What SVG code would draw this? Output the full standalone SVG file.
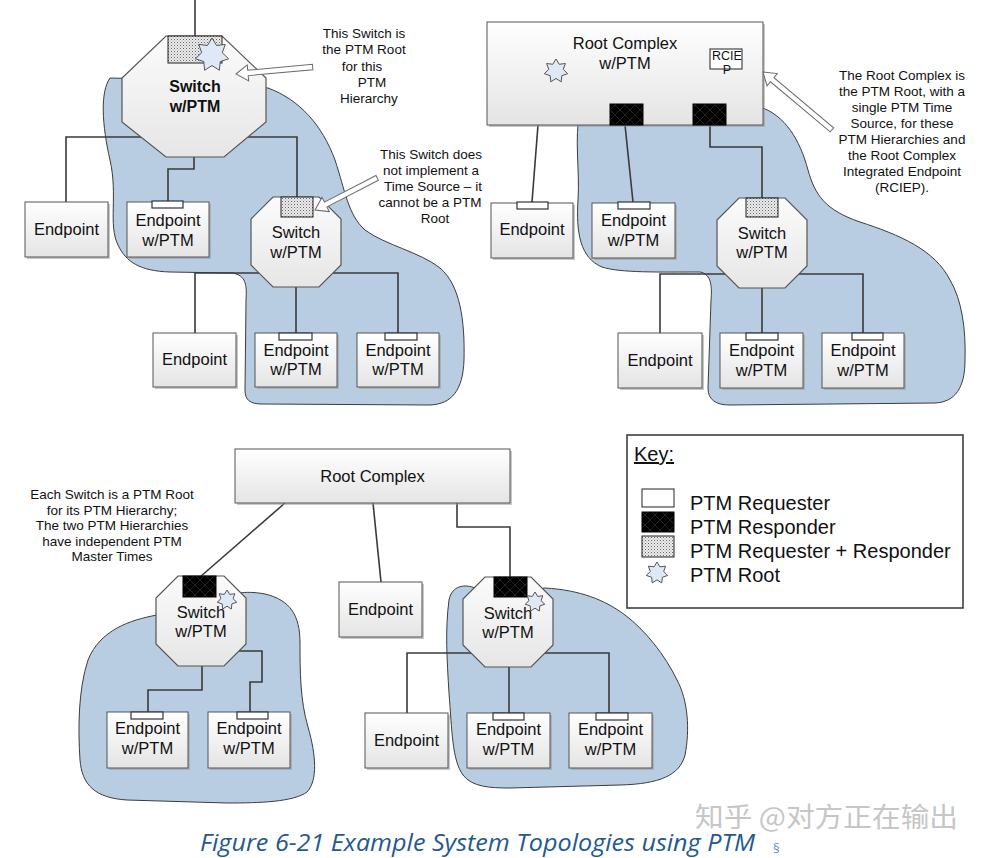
<svg xmlns="http://www.w3.org/2000/svg" xmlns:xlink="http://www.w3.org/1999/xlink" width="984" height="858" viewBox="0 0 984 858">
<style>
.blob{fill:#b8cde2;stroke:#3c3c3c;stroke-width:1}
.ln{fill:none;stroke:#3a3a3a;stroke-width:1.6}
.box{fill:url(#gbox);stroke:#555;stroke-width:1}
.sh{fill:#9a9a9a;opacity:.55}
.oct{fill:url(#goct);stroke:#555;stroke-width:1.2}
.port{fill:#fff;stroke:#333;stroke-width:1.2}
.dots{fill:url(#pdots);stroke:#222;stroke-width:1}
.resp{fill:url(#phatch);stroke:#000;stroke-width:1}
.t{font-family:"Liberation Sans",Arial,sans-serif;font-size:16.5px;fill:#111;text-anchor:middle}
.tb{font-family:"Liberation Sans",Arial,sans-serif;font-size:16px;font-weight:bold;fill:#111;text-anchor:middle}
.ann{font-family:"Liberation Sans",Arial,sans-serif;font-size:13.5px;fill:#111;text-anchor:middle}
.key{font-family:"Liberation Sans",Arial,sans-serif;font-size:20px;fill:#111}
.arw{fill:#fff;stroke:#6a6a6a;stroke-width:1}
.star{fill:#dfe9f6;stroke:#555;stroke-width:1;vector-effect:non-scaling-stroke}
</style>
<defs>
<linearGradient id="gbox" x1="0" y1="0" x2="0" y2="1"><stop offset="0" stop-color="#ffffff"/><stop offset="1" stop-color="#e4e4e4"/></linearGradient>
<linearGradient id="goct" x1="0" y1="0" x2="0" y2="1"><stop offset="0" stop-color="#fbfbfb"/><stop offset="1" stop-color="#e6e6e6"/></linearGradient>
<pattern id="pdots" width="3" height="3" patternUnits="userSpaceOnUse"><rect width="3" height="3" fill="#ececec"/><rect width="1" height="1" fill="#666"/><rect x="1.5" y="1.5" width="1" height="1" fill="#999"/></pattern>
<pattern id="phatch" width="10" height="10" patternUnits="userSpaceOnUse"><rect width="10" height="10" fill="#000"/><path d="M0,0 L10,10 M10,0 L0,10" stroke="#2e2e2e" stroke-width="0.8"/></pattern>
<path id="star" class="star" d="M0,-10 L2.69,-5.59 L7.82,-6.24 L6.04,-1.38 L9.75,2.23 L4.85,3.87 L4.34,9.01 L0,6.2 L-4.34,9.01 L-4.85,3.87 L-9.75,2.23 L-6.04,-1.38 L-7.82,-6.24 L-2.69,-5.59 Z"/>
</defs>

<rect width="984" height="858" fill="#fff"/>

<!-- PTM hierarchy regions -->
<g id="regions">
<path class="blob" d="M110,78 C100,92 102,125 110,160 C118,195 108,225 118,245 C126,262 140,271 170,272 L232,273 C246,275 247,285 246,300 L245,390 C245,400 250,404 262,404 L430,405 C452,404 463,390 464,360 C465,320 460,285 440,268 C420,252 385,245 365,230 C348,215 345,190 335,160 C322,125 300,100 268,88 L190,80 Z"/>
<path class="blob" d="M580,110 C574,140 580,170 578,200 C576,232 580,258 602,267 C620,273 660,272 700,272 C712,274 712,288 711,300 L708,388 C708,400 716,405 730,405 L935,403 C955,402 965,388 965,360 C966,330 962,300 950,280 C935,250 900,235 860,222 C825,210 815,195 808,170 C800,140 785,115 760,107 L620,108 Z"/>
<path class="blob" d="M170,612 L157,615 C130,620 100,630 88,660 C78,690 78,730 80,760 C82,785 95,798 127,800 L227,803 C260,803 293,802 307,792 C318,780 316,755 308,727 C300,700 300,670 300,643 C300,615 290,600 265,594 C255,592 245,592 240,593 Z"/>
<path class="blob" d="M475,588 C465,584 452,585 449,600 C445,630 447,660 449,693 C452,730 452,760 463,775 C472,787 490,788 510,788 L620,785 C660,784 680,775 685,755 C690,730 688,700 677,680 C665,655 645,630 625,615 C605,600 580,590 545,588 L530,590 Z"/>
</g>

<!-- connectors -->
<g id="connectors">
<path class="ln" d="M195,0 V36"/>
<path class="ln" d="M66,202 V137 H297 V197"/>
<path class="ln" d="M194,157 V169 H168 V202"/>
<path class="ln" d="M195,333 V273 H398 V333"/>
<path class="ln" d="M296,287 V333"/>
<path class="ln" d="M538,125 L532,202"/>
<path class="ln" d="M625,125 L633,202"/>
<path class="ln" d="M710,125 V147 H762 V198"/>
<path class="ln" d="M660,333 V274 H863 V333"/>
<path class="ln" d="M762,288 V333"/>
<path class="ln" d="M285,503 L200,577"/>
<path class="ln" d="M457,503 V527 H510 V577"/>
<path class="ln" d="M373,503 L381,582"/>
<path class="ln" d="M202,666 V690 H148 V712"/>
<path class="ln" d="M235,651 H262 V682 H250 V712"/>
<path class="ln" d="M407,713 V653 H609 V713"/>
<path class="ln" d="M509,667 V713"/>
</g>

<!-- top-left hierarchy -->
<g id="sw-tl-root">
<polygon class="oct" points="166,36 222,36 266,78 266,122 224,157 166,157 122,122 122,78"/>
<rect class="dots" x="168" y="36" width="54" height="27"/>
<use href="#star" transform="translate(212,55) scale(1.7)"/>
<text class="tb" x="195" y="92">Switch</text>
<text class="tb" x="195" y="112">w/PTM</text>
</g>
<g id="ep-tl-1"><rect class="sh" x="27" y="204" width="83" height="55"/><rect class="box" x="25" y="202" width="83" height="55"/><text class="t" x="66.5" y="235">Endpoint</text></g>
<g id="ep-tl-2"><rect class="sh" x="129" y="204" width="82" height="55"/><rect class="box" x="127" y="202" width="82" height="55"/><rect class="port" x="152" y="201" width="31" height="7"/><text class="t" x="168" y="226">Endpoint</text><text class="t" x="168" y="246">w/PTM</text></g>
<g id="sw-tl-2">
<polygon class="oct" points="273,197 319,197 341,219 341,265 319,287 273,287 251,265 251,219"/>
<rect class="dots" x="281" y="197" width="32" height="20"/>
<text class="t" x="296" y="238">Switch</text>
<text class="t" x="296" y="258">w/PTM</text>
</g>
<g id="ep-tl-3"><rect class="sh" x="155" y="335" width="83" height="54"/><rect class="box" x="153" y="333" width="83" height="54"/><text class="t" x="194.5" y="365">Endpoint</text></g>
<g id="ep-tl-4"><rect class="sh" x="257" y="335" width="82" height="54"/><rect class="box" x="255" y="333" width="82" height="54"/><rect class="port" x="279" y="333" width="33" height="7"/><text class="t" x="296" y="356">Endpoint</text><text class="t" x="296" y="375">w/PTM</text></g>
<g id="ep-tl-5"><rect class="sh" x="359" y="335" width="82" height="54"/><rect class="box" x="357" y="333" width="82" height="54"/><rect class="port" x="385" y="333" width="32" height="7"/><text class="t" x="398" y="356">Endpoint</text><text class="t" x="398" y="375">w/PTM</text></g>

<!-- top-right hierarchy -->
<g id="rc-tr">
<rect class="sh" x="489" y="24" width="276" height="103"/>
<rect class="box" x="487" y="22" width="276" height="103"/>
<text class="t" x="625" y="49">Root Complex</text>
<text class="t" x="625" y="69">w/PTM</text>
<use href="#star" transform="translate(556,71) scale(1.2)"/>
<rect x="710" y="49" width="32" height="20" fill="#fff" stroke="#222" stroke-width="1"/>
<text x="727" y="60" font-family="Liberation Sans, Arial, sans-serif" font-size="12.5" text-anchor="middle" fill="#111">RCIE</text>
<text x="727" y="74" font-family="Liberation Sans, Arial, sans-serif" font-size="12.5" text-anchor="middle" fill="#111">P</text>
<rect class="resp" x="610" y="104" width="33" height="21"/>
<rect class="resp" x="693" y="104" width="33" height="21"/>
</g>
<g id="ep-tr-1"><rect class="sh" x="493" y="205" width="82" height="55"/><rect class="box" x="491" y="203" width="82" height="55"/><rect class="port" x="517" y="202" width="31" height="7"/><text class="t" x="532" y="235">Endpoint</text></g>
<g id="ep-tr-2"><rect class="sh" x="594" y="205" width="83" height="55"/><rect class="box" x="592" y="203" width="83" height="55"/><rect class="port" x="618" y="202" width="32" height="7"/><text class="t" x="633.5" y="226">Endpoint</text><text class="t" x="633.5" y="246">w/PTM</text></g>
<g id="sw-tr">
<polygon class="oct" points="739,198 785,198 807,220 807,266 785,288 739,288 717,266 717,220"/>
<rect class="dots" x="746" y="198" width="32" height="19"/>
<text class="t" x="762" y="239">Switch</text>
<text class="t" x="762" y="258">w/PTM</text>
</g>
<g id="ep-tr-3"><rect class="sh" x="620" y="335" width="84" height="55"/><rect class="box" x="618" y="333" width="84" height="55"/><text class="t" x="660" y="366">Endpoint</text></g>
<g id="ep-tr-4"><rect class="sh" x="722" y="335" width="83" height="55"/><rect class="box" x="720" y="333" width="83" height="55"/><rect class="port" x="746" y="333" width="32" height="7"/><text class="t" x="761.5" y="356">Endpoint</text><text class="t" x="761.5" y="376">w/PTM</text></g>
<g id="ep-tr-5"><rect class="sh" x="824" y="335" width="82" height="55"/><rect class="box" x="822" y="333" width="82" height="55"/><rect class="port" x="852" y="333" width="31" height="7"/><text class="t" x="863" y="356">Endpoint</text><text class="t" x="863" y="376">w/PTM</text></g>

<!-- bottom hierarchy -->
<g id="rc-bl"><rect class="sh" x="237" y="451" width="275" height="54"/><rect class="box" x="235" y="449" width="275" height="54"/><text class="t" x="372.5" y="482">Root Complex</text></g>
<g id="sw-bl-1">
<polygon class="oct" points="178,576 224,576 246,598 246,644 224,666 178,666 156,644 156,598"/>
<rect class="resp" x="183" y="576" width="33" height="21"/>
<text class="t" x="201" y="618">Switch</text>
<text class="t" x="201" y="637">w/PTM</text>
<use href="#star" transform="translate(227,600)"/>
</g>
<g id="ep-bl-1"><rect class="sh" x="109" y="714" width="81" height="56"/><rect class="box" x="107" y="712" width="81" height="56"/><rect class="port" x="131" y="712" width="32" height="7"/><text class="t" x="147.5" y="734">Endpoint</text><text class="t" x="147.5" y="754">w/PTM</text></g>
<g id="ep-bl-2"><rect class="sh" x="210" y="714" width="82" height="56"/><rect class="box" x="208" y="712" width="82" height="56"/><rect class="port" x="237" y="712" width="31" height="7"/><text class="t" x="249" y="734">Endpoint</text><text class="t" x="249" y="754">w/PTM</text></g>
<g id="ep-bl-3"><rect class="sh" x="341" y="584" width="83" height="55"/><rect class="box" x="339" y="582" width="83" height="55"/><text class="t" x="380.5" y="615">Endpoint</text></g>
<g id="sw-bl-2">
<polygon class="oct" points="485,577 531,577 553,599 553,645 531,667 485,667 463,645 463,599"/>
<rect class="resp" x="494" y="577" width="33" height="20"/>
<text class="t" x="508" y="619">Switch</text>
<text class="t" x="508" y="638">w/PTM</text>
<use href="#star" transform="translate(535,602)"/>
</g>
<g id="ep-bl-4"><rect class="sh" x="367" y="715" width="83" height="55"/><rect class="box" x="365" y="713" width="83" height="55"/><text class="t" x="406.5" y="746">Endpoint</text></g>
<g id="ep-bl-5"><rect class="sh" x="469" y="715" width="83" height="55"/><rect class="box" x="467" y="713" width="83" height="55"/><rect class="port" x="493" y="713" width="31" height="7"/><text class="t" x="508.5" y="735">Endpoint</text><text class="t" x="508.5" y="755">w/PTM</text></g>
<g id="ep-bl-6"><rect class="sh" x="571" y="715" width="83" height="55"/><rect class="box" x="569" y="713" width="83" height="55"/><rect class="port" x="596" y="713" width="32" height="7"/><text class="t" x="610.5" y="735">Endpoint</text><text class="t" x="610.5" y="755">w/PTM</text></g>

<!-- annotations -->
<g id="note-tl-root">
<text class="ann" x="364" y="38">This Switch is</text>
<text class="ann" x="364" y="54">the PTM Root</text>
<text class="ann" x="362" y="71">for this</text>
<text class="ann" x="372" y="87">PTM</text>
<text class="ann" x="369" y="103">Hierarchy</text>
<polygon class="arw" transform="translate(236,74) rotate(-5.2)" points="0,0 12,-8 12,-2.7 77,-2.7 77,2.7 12,2.7 12,8"/>
</g>
<g id="note-tl-sw">
<text class="ann" x="431" y="159">This Switch does</text>
<text class="ann" x="431" y="175">not implement a</text>
<text class="ann" x="433" y="191">Time Source – it</text>
<text class="ann" x="430" y="207">cannot be a PTM</text>
<text class="ann" x="435" y="223">Root</text>
<polygon class="arw" transform="translate(315,210) rotate(-27.3)" points="0,0 12,-8 12,-2.7 70,-2.7 70,2.7 12,2.7 12,8"/>
</g>
<g id="note-tr">
<text class="ann" x="902" y="80">The Root Complex is</text>
<text class="ann" x="902" y="96">the PTM Root, with a</text>
<text class="ann" x="902" y="112">single PTM Time</text>
<text class="ann" x="902" y="128">Source, for these</text>
<text class="ann" x="902" y="144">PTM Hierarchies and</text>
<text class="ann" x="902" y="160">the Root Complex</text>
<text class="ann" x="902" y="176">Integrated Endpoint</text>
<text class="ann" x="902" y="192">(RCIEP).</text>
<polygon class="arw" transform="translate(763,72) rotate(40)" points="0,0 12,-8 12,-2.7 90,-2.7 90,2.7 12,2.7 12,8"/>
</g>
<g id="note-bl">
<text class="ann" x="112" y="499" font-size="12.8">Each Switch is a PTM Root</text>
<text class="ann" x="112" y="515" font-size="12.8">for its PTM Hierarchy;</text>
<text class="ann" x="112" y="530" font-size="12.8">The two PTM Hierarchies</text>
<text class="ann" x="112" y="546" font-size="12.8">have independent PTM</text>
<text class="ann" x="112" y="561" font-size="12.8">Master Times</text>
</g>

<!-- key -->
<g id="key">
<rect x="627" y="435" width="336" height="173" fill="#fff" stroke="#333" stroke-width="1.5"/>
<text class="key" x="634" y="461" text-decoration="underline">Key:</text>
<rect x="642" y="489" width="32" height="18" fill="#fff" stroke="#222" stroke-width="1"/>
<rect class="resp" x="642" y="512" width="32" height="20"/>
<rect class="dots" x="642" y="536" width="32" height="21"/>
<use href="#star" transform="translate(657,573) scale(1.1)"/>
<text class="key" x="690" y="510">PTM Requester</text>
<text class="key" x="690" y="534">PTM Responder</text>
<text class="key" x="690" y="558">PTM Requester + Responder</text>
<text class="key" x="690" y="582">PTM Root</text>
</g>

<!-- watermark and caption -->
<text x="695" y="827" font-family="Noto Sans CJK SC, sans-serif" font-size="27" fill="#c6c6c6" textLength="263" lengthAdjust="spacingAndGlyphs">知乎 @对方正在输出</text>
<text x="200" y="851" font-family="Open Sans, Noto Sans, sans-serif" font-style="italic" font-size="24" fill="#23598f" textLength="555" lengthAdjust="spacingAndGlyphs">Figure 6-21 Example System Topologies using PTM</text>
<text x="773" y="853" font-family="Open Sans, Noto Sans, sans-serif" font-size="13" fill="#5a8fcb">§</text>
</svg>
